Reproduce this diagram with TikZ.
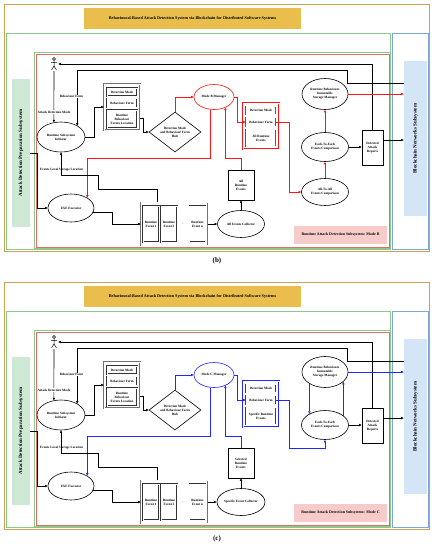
\documentclass[tikz,border=0pt]{standalone}
\usepackage{fontspec}
\setmainfont{Liberation Serif}
\usetikzlibrary{shapes.geometric,arrows.meta}
\definecolor{goldline}{RGB}{201,163,78}
\definecolor{titlefill}{RGB}{234,190,76}
\definecolor{greenline}{RGB}{140,200,138}
\definecolor{redline}{RGB}{228,108,108}
\definecolor{blueline}{RGB}{125,167,218}
\definecolor{greenfill}{RGB}{205,233,213}
\definecolor{bluefill}{RGB}{211,229,247}
\definecolor{pinkfill}{RGB}{248,203,203}
\definecolor{modered}{RGB}{255,20,20}
\definecolor{modeblue}{RGB}{30,40,255}
\tikzset{
 sm/.style={font=\fontsize{3.3}{3.9}\selectfont\bfseries},
 ln/.style={line width=0.6pt},
 arr/.style={ln,-{Triangle[length=2.6pt,width=2.3pt]}},
 frame/.style={line width=0.8pt},
 elbox/.style={ellipse,draw,ln,inner sep=0pt,align=center,sm},
 sbox/.style={rectangle,draw,ln,inner sep=0pt,align=center,sm},
 dbox/.style={rectangle,draw=#1,double=white,double distance=0.6pt,line width=0.35pt,inner sep=0pt,align=center,sm},
 dbox/.default={black!80},
}
\newcommand\panelbody[6]{%
 \draw[goldline,line width=0.9pt] (4,4) rectangle (429,251);
 \node[fill=titlefill,minimum width=217pt,minimum height=21pt,inner sep=0pt,font=\fontsize{4.2}{5}\selectfont\bfseries] (title#1) at (192.5,18.5) {Behavioural-Based Attack Detection System via Blockchain for Distributed Software Systems};
 \draw[greenline,frame] (6,33) rectangle (390.5,249);
 \draw[greenline,frame] (34,52) rectangle (390,248);
 \draw[redline,frame] (36,54.5) rectangle (389,247);
 \draw[blueline,frame] (392.5,33) rectangle (428,249);
 \node[fill=greenfill,minimum width=18pt,minimum height=148pt,inner sep=0pt] (gfill#1) at (21,153) {};
 \node[rotate=90,font=\fontsize{5}{6}\selectfont\bfseries] (gtxt#1) at (gfill#1) {Attack Detection Preparation Subsystem};
 \node[fill=bluefill,minimum width=23pt,minimum height=155pt,inner sep=0pt] (bfill#1) at (415.5,138.5) {};
 \node[rotate=90,font=\fontsize{5}{6}\selectfont\bfseries] (btxt#1) at (bfill#1) {Blockchain Networks Subsystem};
 \node[fill=pinkfill,minimum width=93pt,minimum height=18pt,inner sep=0pt,font=\fontsize{3.9}{4.5}\selectfont\bfseries] (plab#1) at (340.5,235) {Runtime Attack Detection Subsystem: Mode #3};
 % actor
 \node[minimum width=8pt,minimum height=14pt,inner sep=0pt] (act#1) at (54,64) {};
 \draw[line width=0.5pt] (54,59) circle (1.5pt);
 \draw[line width=0.5pt] (54,60.5) -- (54,66) (51,62.5) -- (57,62.5) (54,66) -- (51.5,70) (54,66) -- (56.5,70);
 % nodes
 \node[elbox,minimum width=48pt,minimum height=30pt] (init#1) at (61,137) {Runtime Subsystem\\Initiator};
 \node[dbox=black!55,minimum width=36pt,minimum height=46pt] (st#1) at (122,107) {};
 \node[dbox,minimum width=30pt,minimum height=8pt] (sdm#1) at (122,92) {Detection Mode};
 \node[dbox,minimum width=30pt,minimum height=9pt] (sbf#1) at (122,103) {Behaviour Form};
 \node[dbox,minimum width=30pt,minimum height=18pt] (sel#1) at (122,119) {Runtime\\Behaviour\\Events Location};
 \node[diamond,draw,ln,aspect=1.3,minimum width=52pt,minimum height=40pt,inner sep=0pt,align=center,sm] (hub#1) at (175,132) {Detection Mode\\and Behaviour Form\\Hub};
 \node[elbox,draw=#2,minimum width=40pt,minimum height=25pt] (mgr#1) at (214,97) {Mode #3 Manager};
 \node[dbox=#2,minimum width=36pt,minimum height=46pt] (cst#1) at (261,126) {};
 \node[dbox=#2,minimum width=30pt,minimum height=8pt] (cdm#1) at (261,110.5) {Detection Mode};
 \node[dbox=#2,minimum width=30pt,minimum height=9pt] (cbf#1) at (261,122) {Behaviour Form};
 \node[dbox=#2,minimum width=30pt,minimum height=17pt] (cre#1) at (261,138) {#4};
 \node[sbox,minimum width=26pt,minimum height=30pt] (are#1) at (241,185) {#5};
 \node[elbox,minimum width=47pt,minimum height=27pt] (aec#1) at (241,224) {#6};
 \node[elbox,minimum width=46pt,minimum height=28pt] (exe#1) at (71,208) {EXE Executor};
 \node[dbox=black!55,minimum width=67pt,minimum height=43pt] (rev#1) at (174.5,224) {};
 \node[dbox,minimum width=16pt,minimum height=36pt] (ev1#1) at (151,224) {Runtime\\Event 1};
 \node[dbox,minimum width=16pt,minimum height=36pt] (ev2#1) at (169,224) {Runtime\\Event 2};
 \node[sm] (dots#1) at (182.5,224) {.};
 \node[dbox,minimum width=16pt,minimum height=36pt] (evn#1) at (197.5,224) {Runtime\\Event n};
 \node[elbox,minimum width=47pt,minimum height=29pt] (ete#1) at (325,147) {Each-To-Each\\Events Comparison};
 \node[elbox,minimum width=46pt,minimum height=31pt] (ism#1) at (325,94) {Runtime Behaviours\\Immutable\\Storage Manager};
 \node[sbox,minimum width=21pt,minimum height=35pt] (dar#1) at (372.5,147.5) {Detected\\Attack\\Reports};
 \coordinate (lvA#1) at (0,158);
 % common connectors
 \draw[arr] (dar#1.north) |- (act#1.east);
 \draw[arr] ([yshift=55.5pt]bfill#1.west) -| (347,70) -| (init#1.35);
 \draw[arr] (act#1.south) -- (init#1.116);
 \node[sm,fill=white,inner sep=0.6pt] (lbf#1) at (71.5,96.5) {Behaviour Form};
 \node[sm,fill=white,inner sep=0.6pt] (ladm#1) at (54,112) {Attack Detection Mode};
 \draw[arr] (init#1.east) -- ++(9,0) |- (st#1.west);
 \draw[arr] ([yshift=-11pt]st#1.east) -- ++(3,0) |- (hub#1.west);
 \draw[arr,color=#2] (hub#1.north) |- (mgr#1.west);
 \draw[arr,color=#2] (mgr#1.252) |- (exe#1.32 |- lvA#1) -- (exe#1.32);
 \draw[arr,color=#2] (are#1.north) |- (mgr#1.317 |- lvA#1) -- (mgr#1.317);
 \draw[arr,color=#2] (mgr#1.east) -- ++(3,0) |- (cbf#1.west);
 \draw[arr,color=#2] (ism#1.east) -- (ism#1.east -| bfill#1.west);
 \draw[arr] (ete#1.east) -- (ete#1.east -| dar#1.west);
 \draw[arr] ([yshift=7.5pt]dar#1.east) -- ([yshift=7.5pt]dar#1.east -| bfill#1.west);
 \draw[arr] (exe#1.350) -- ++(19,0) |- (rev#1.west);
 \draw[arr] (gfill#1.east) -- ++(7,0) |- (exe#1.west);
 \draw[arr] ([xshift=-17.5pt]rev#1.north) -- ++(0,-13) -| (98,175) -| (init#1.south);
 \node[sm] (lels#1) at (61.5,170) {Events Local Storage Location};
 \draw[arr] (rev#1.east) -- (aec#1.west);
 \draw[arr] (aec#1.north) -- (are#1.south);
 \node[font=\fontsize{7}{8}\selectfont\bfseries] (cap#1) at (217,261) {(#1)};
}
\begin{document}
\begin{tikzpicture}[x=1pt,y=-1pt]
\useasboundingbox (0,0) rectangle (435,550);
\fill[white] (0,0) rectangle (435,550);
\panelbody{b}{modered}{B}{All Runtime\\Events}{All\\Runtime\\Events}{All Events Collector}
\node[elbox,minimum width=47pt,minimum height=27pt] (atab) at (325,192) {All-To-All\\Events Comparison};
\draw[arr,modered] (cbfb.east) -- ++(13,0) |- (atab.west);
\draw[arr,modered] (atab.north) -- (eteb.south);
\draw[arr,modered] (eteb.north) -- (ismb.south);
\begin{scope}[shift={(0,278)}]
\panelbody{c}{modeblue}{C}{Specific Runtime\\Events}{Selected\\Runtime\\Events}{Specific Event Collector}
\coordinate (lvBc) at (0,170);
\draw[arr,modeblue] (cbfc.east) -- ++(13,0) |- (etec.south |- lvBc) -- (etec.south);
\draw[arr,modeblue] (ismc.217) -- (ismc.217 |- etec.145);
\draw[arr,modeblue] (etec.27) -- (etec.27 |- ismc.332);
\end{scope}
\end{tikzpicture}
\end{document}
